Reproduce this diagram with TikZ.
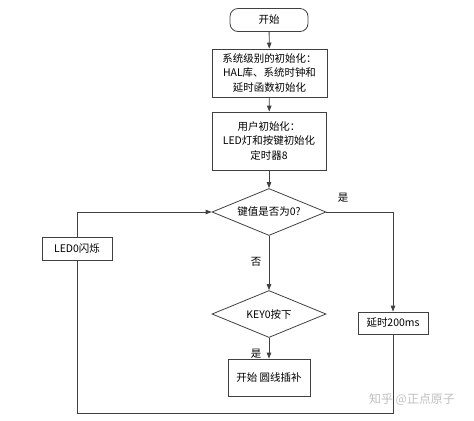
\documentclass[tikz,border=0pt]{standalone}
\usepackage{fontspec}
\setmainfont{Noto Sans CJK SC}
\usetikzlibrary{arrows.meta,shapes.geometric}
\tikzset{
  line/.style={draw=black!75, line width=0.8pt},
  flow/.style={line, -{Triangle[length=6bp,width=4.5bp]}},
  box/.style={line, rectangle, align=center, inner sep=1pt, font=\fontsize{10.5}{14.5}\selectfont},
  startbox/.style={box, rounded corners=8bp, minimum width=78bp, minimum height=23bp},
  choice/.style={line, diamond, aspect=2.4, inner sep=0pt, minimum width=114bp, minimum height=47bp, font=\fontsize{10.5}{12}\selectfont},
  tag/.style={font=\fontsize{10.5}{12}\selectfont}
}
\begin{document}
\begin{tikzpicture}[x=1bp, y=-1bp]
	%%%%% START %%%%%
	\useasboundingbox (0, 0) rectangle (474, 420);
	
	\node[startbox] (start) at (269, 20) {开始};
	\node[box, minimum width=115bp, minimum height=48bp] (sysinit) at (269.5, 73) {系统级别的初始化：\\HAL库、系统时钟和\\延时函数初始化};
	\node[box, minimum width=114bp, minimum height=58bp] (userinit) at (269, 141) {用户初始化：\\LED灯和按键初始化\\定时器8};
	
	\node[choice] (keyzero) at (269, 212) {键值是否为0?};
	\node[choice] (keypress) at (269, 314) {KEY0按下};
	\node[box, minimum width=82bp, minimum height=37bp] (interp) at (269, 377.5) {开始 圆线插补};
	
	\node[box, minimum width=70bp, minimum height=23bp] (led) at (77, 248.5) {LED0闪烁};
	\node[box, minimum width=70bp, minimum height=22bp] (delay) at (393, 323) {延时200ms};
	
	\coordinate (ne) at (393, 212);
	\coordinate (se) at (393, 413);
	\coordinate (sw) at (77, 413);
	\coordinate (nw) at (77, 212);
	
	\draw[flow] (start) -- (sysinit);
	\draw[flow] (sysinit) -- (userinit);
	\draw[flow] (userinit) -- (keyzero);
	\draw[flow] (keyzero) -- (keypress);
	\draw[flow] (keypress) -- (interp);
	
	\draw[flow] (keyzero.east) -- (ne) -- (delay.north);
	\draw[line] (delay.south) -- (se) -- (sw) -- (led.south);
	\draw[flow] (led.north) -- (nw) -- (keyzero.west);
	
	\node[tag] (yes1) at (343, 198) {是};
	\node[tag] (no1) at (256, 262) {否};
	\node[tag] (yes2) at (256, 354) {是};
	
	\node[text=black!25, font=\fontsize{12}{14}\selectfont] (mark) at (412, 399) {知乎 @正点原子};
	%%%%% END %%%%%
\end{tikzpicture}
\end{document}
